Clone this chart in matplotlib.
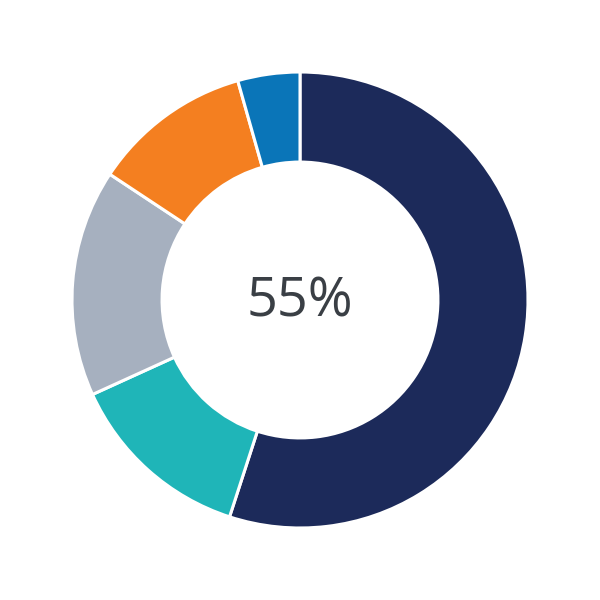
import matplotlib
matplotlib.use("Agg")
from matplotlib import pyplot as plt

labels = ["Navy", "Teal", "Gray", "Orange", "Blue"]
values = [55, 13.2, 16.1, 11.3, 4.4]
colors = ["#1c2a5a", "#1fb5b8", "#a6b0bf", "#f47f20", "#0a75b8"]
center_text = "55%"

fig = plt.figure(figsize=(6, 6), dpi=100)
ax = fig.add_axes([0, 0, 1, 1])
ax.pie(values, colors=colors, startangle=90, counterclock=False,
       radius=1, wedgeprops=dict(width=0.395, edgecolor="white", linewidth=2.2))
ax.text(0, -0.01, center_text, ha="center", va="center", fontsize=39,
        color="#3a3f45", family=["Open Sans", "DejaVu Sans"])
lim = 300 / 228
ax.set_xlim(-lim, lim)
ax.set_ylim(-lim, lim)
ax.set_aspect("equal")
ax.axis("off")
fig.savefig("out.png", dpi=100, facecolor="white")
